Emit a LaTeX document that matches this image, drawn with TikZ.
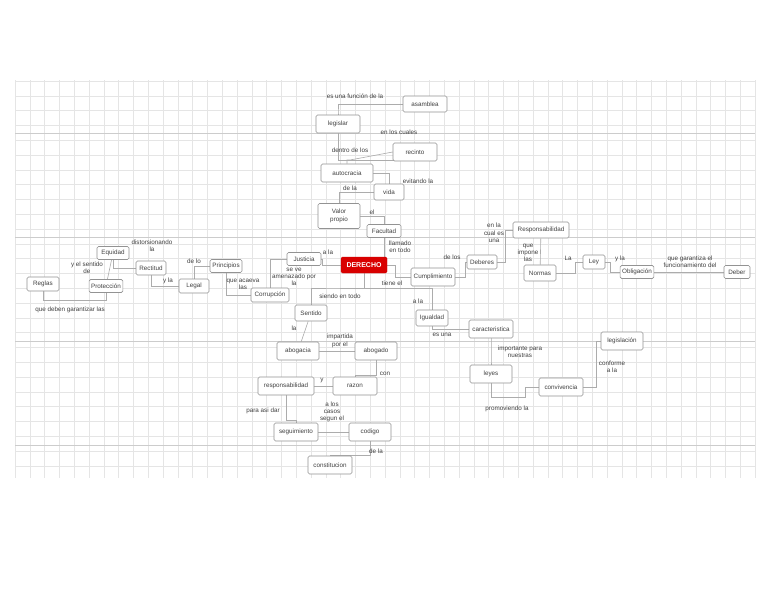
\documentclass[tikz,border=0pt]{standalone}
\usepackage{fontspec}
\setmainfont{Liberation Sans}
\usetikzlibrary{backgrounds}
\begin{document}
\begin{tikzpicture}[x=1pt,y=-1pt,
 box/.style={draw=gray!85,line width=0.6pt,rounded corners=1.5pt,fill=white,font=\fontsize{6.3}{7.3}\selectfont,text=black!75,minimum height=16pt,inner sep=2pt,align=center},
 lab/.style={font=\fontsize{6.3}{7.3}\selectfont,text=black!75,align=center,inner sep=0pt},
 con/.style={draw=gray!65,line width=0.6pt}]
\useasboundingbox (0,0) rectangle (768,594);
% nodes
\node[box,minimum width=44pt] (asam) at (425,104) {asamblea};
\node[box,minimum width=44pt,minimum height=18pt] (legis) at (338,124) {legislar};
\node[box,minimum width=44pt,minimum height=18pt] (rec) at (415,152) {recinto};
\node[box,minimum width=52pt,minimum height=18pt] (auto) at (347,173) {autocracia};
\node[box,minimum width=30pt] (vida) at (389,192) {vida};
\node[box,minimum width=42pt,minimum height=25pt] (valor) at (339,216) {Valor\\propio};
\node[box,minimum width=34pt,minimum height=13pt] (fac) at (384,231) {Facultad};
\node[draw=red!80!black,fill=red!85!black,text=white,font=\fontsize{7}{8}\selectfont\bfseries,rounded corners=1.5pt,minimum width=46pt,minimum height=16pt,inner sep=2pt] (der) at (364,265) {DERECHO};
\node[box,minimum width=34pt,minimum height=13pt] (just) at (304,259) {Justicia};
\node[box,minimum width=38pt,minimum height=14pt] (corr) at (270,295) {Corrupción};
\node[box,minimum width=32pt,minimum height=13pt] (prin) at (226,266) {Principios};
\node[box,minimum width=30pt,minimum height=14pt] (legal) at (194,286) {Legal};
\node[box,minimum width=30pt,minimum height=14pt] (rect) at (151,268) {Rectitud};
\node[box,minimum width=32pt,minimum height=13pt] (equi) at (113,253) {Equidad};
\node[box,minimum width=32pt,minimum height=13pt] (prot) at (106,286) {Protección};
\node[box,minimum width=32pt,minimum height=14pt] (regl) at (43,284) {Reglas};
\node[box,minimum width=44pt,minimum height=18pt] (cump) at (433,277) {Cumplimiento};
\node[box,minimum width=30pt,minimum height=14pt] (debs) at (482,262) {Deberes};
\node[box,minimum width=56pt] (resp) at (541,230) {Responsabilidad};
\node[box,minimum width=32pt] (norm) at (540,273) {Normas};
\node[box,minimum width=22pt,minimum height=14pt] (ley) at (594,262) {Ley};
\node[box,minimum width=32pt,minimum height=13pt] (obl) at (637,272) {Obligación};
\node[box,minimum width=26pt,minimum height=13pt] (deber) at (737,272) {Deber};
\node[box,minimum width=32pt] (sent) at (311,313) {Sentido};
\node[box,minimum width=32pt] (igu) at (432,318) {Igualdad};
\node[box,minimum width=44pt,minimum height=18pt] (car) at (491,329) {caracteristica};
\node[box,minimum width=42pt,minimum height=18pt] (abga) at (298,351) {abogacia};
\node[box,minimum width=42pt,minimum height=18pt] (abgo) at (376,351) {abogado};
\node[box,minimum width=42pt,minimum height=18pt] (leyes) at (491,374) {leyes};
\node[box,minimum width=44pt,minimum height=18pt] (conv) at (561,387) {convivencia};
\node[box,minimum width=42pt,minimum height=18pt] (legn) at (622,341) {legislación};
\node[box,minimum width=56pt,minimum height=18pt] (respo) at (286,386) {responsabilidad};
\node[box,minimum width=44pt,minimum height=18pt] (raz) at (355,386) {razon};
\node[box,minimum width=44pt,minimum height=18pt] (seg) at (296,432) {seguimiento};
\node[box,minimum width=42pt,minimum height=18pt] (cod) at (370,432) {codigo};
\node[box,minimum width=44pt,minimum height=18pt] (cons) at (330,465) {constitucion};
\begin{scope}[on background layer]
\fill[white] (0,0) rectangle (768,594);
\foreach \i in {0,...,50} \draw[gray!20,line width=0.3pt] ({15+\i*14.8},80) -- ({15+\i*14.8},478);
\foreach \j in {0,...,26} \draw[gray!20,line width=0.3pt] (15,{81+\j*14.8}) -- (755,{81+\j*14.8});
\foreach \j in {0,...,3} \draw[gray!40,line width=0.4pt] (15,{133+\j*104}) -- (755,{133+\j*104});
\coordinate (c1) at (338,113);
\path[con] (legis) -- (c1) |- (asam);
\path[con] (legis) |- (415,160) -- (rec);
\path[con] (auto) |- (350,160) -- (rec.west);
\path[con] (auto) -| (vida);
\path[con] (vida) -| (valor);
\path[con] (valor) -| (fac);
\path[con] (fac) |- (der);
\path[con] (der) -| (322,259) -- (just);
\path[con] (just) -| (corr);
\path[con] (corr) -| (prin);
\path[con] (prin) -| (legal);
\path[con] (legal) -| (rect);
\path[con] (rect) -| (equi);
\path[con] (equi) -- (prot);
\path[con] (prot) |- (43,300) -- (regl);
\path[con] (der) -| (395,277) -- (cump);
\path[con] (cump) -| (465,262) -- (debs);
\path[con] (debs) -| (505,230) -- (resp);
\path[con] (resp) -- (norm);
\path[con] (norm) -| (575,262) -- (ley);
\path[con] (ley) -| (610,272) -- (obl);
\path[con] (obl) -- (deber);
\path[con] (der) |- (340,288) -| (sent);
\path[con] (340,288) -| (432,318);
\path[con] (sent) -- (298,351);
\path[con] (abga) -- (abgo);
\path[con] (abgo) |- (355,375) -- (raz);
\path[con] (raz) -- (respo);
\path[con] (respo) |- (296,420) -- (seg);
\path[con] (seg) -- (cod);
\path[con] (cod) |- (330,455) -- (cons);
\path[con] (igu) |- (car);
\path[con] (car) |- (491,362) -- (leyes);
\path[con] (leyes) |- (525,397) |- (conv);
\path[con] (conv) -| (596,341) -- (legn);
\end{scope}
% labels
\node[lab] (l1) at (355,96) {es una función de la};
\node[lab] (l2) at (399,132) {en los cuales};
\node[lab] (l3) at (350,150) {dentro de los};
\node[lab] (l4) at (418,181) {evitando la};
\node[lab] (l5) at (350,188) {de la};
\node[lab] (l6) at (372,212) {el};
\node[lab] (l7) at (400,247) {llamado\\en todo};
\node[lab] (l8) at (328,252) {a la};
\node[lab] (l9) at (294,277) {se ve\\amenazado por\\la};
\node[lab] (l10) at (243,284) {que acaeva\\las};
\node[lab] (l11) at (194,261) {de lo};
\node[lab] (l12) at (168,281) {y la};
\node[lab] (l13) at (152,246) {distorsionando\\la};
\node[lab] (l14) at (87,268) {y el sentido\\de};
\node[lab] (l15) at (70,310) {que deben garantizar las};
\node[lab] (l16) at (392,283) {tiene el};
\node[lab] (l17) at (340,296) {siendo en todo};
\node[lab] (l18) at (418,301) {a la};
\node[lab] (l19) at (442,335) {es una};
\node[lab] (l20) at (452,257) {de los};
\node[lab] (l21) at (494,233) {en la\\cual es\\una};
\node[lab] (l22) at (528,253) {que\\impone\\las};
\node[lab] (l23) at (568,258) {La};
\node[lab] (l24) at (620,259) {y la};
\node[lab] (l25) at (690,262) {que garantiza el\\funcionamiento del};
\node[lab] (l26) at (294,328) {la};
\node[lab] (l27) at (340,341) {impartida\\por el};
\node[lab] (l28) at (385,374) {con};
\node[lab] (l29) at (322,380) {y};
\node[lab] (l30) at (332,412) {a los\\casos\\segun el};
\node[lab] (l31) at (263,411) {para asi dar};
\node[lab] (l32) at (376,451) {de la};
\node[lab] (l33) at (520,352) {importante para\\nuestras};
\node[lab] (l34) at (612,367) {conforme\\a la};
\node[lab] (l35) at (507,409) {promoviendo la};
\end{tikzpicture}
\end{document}
